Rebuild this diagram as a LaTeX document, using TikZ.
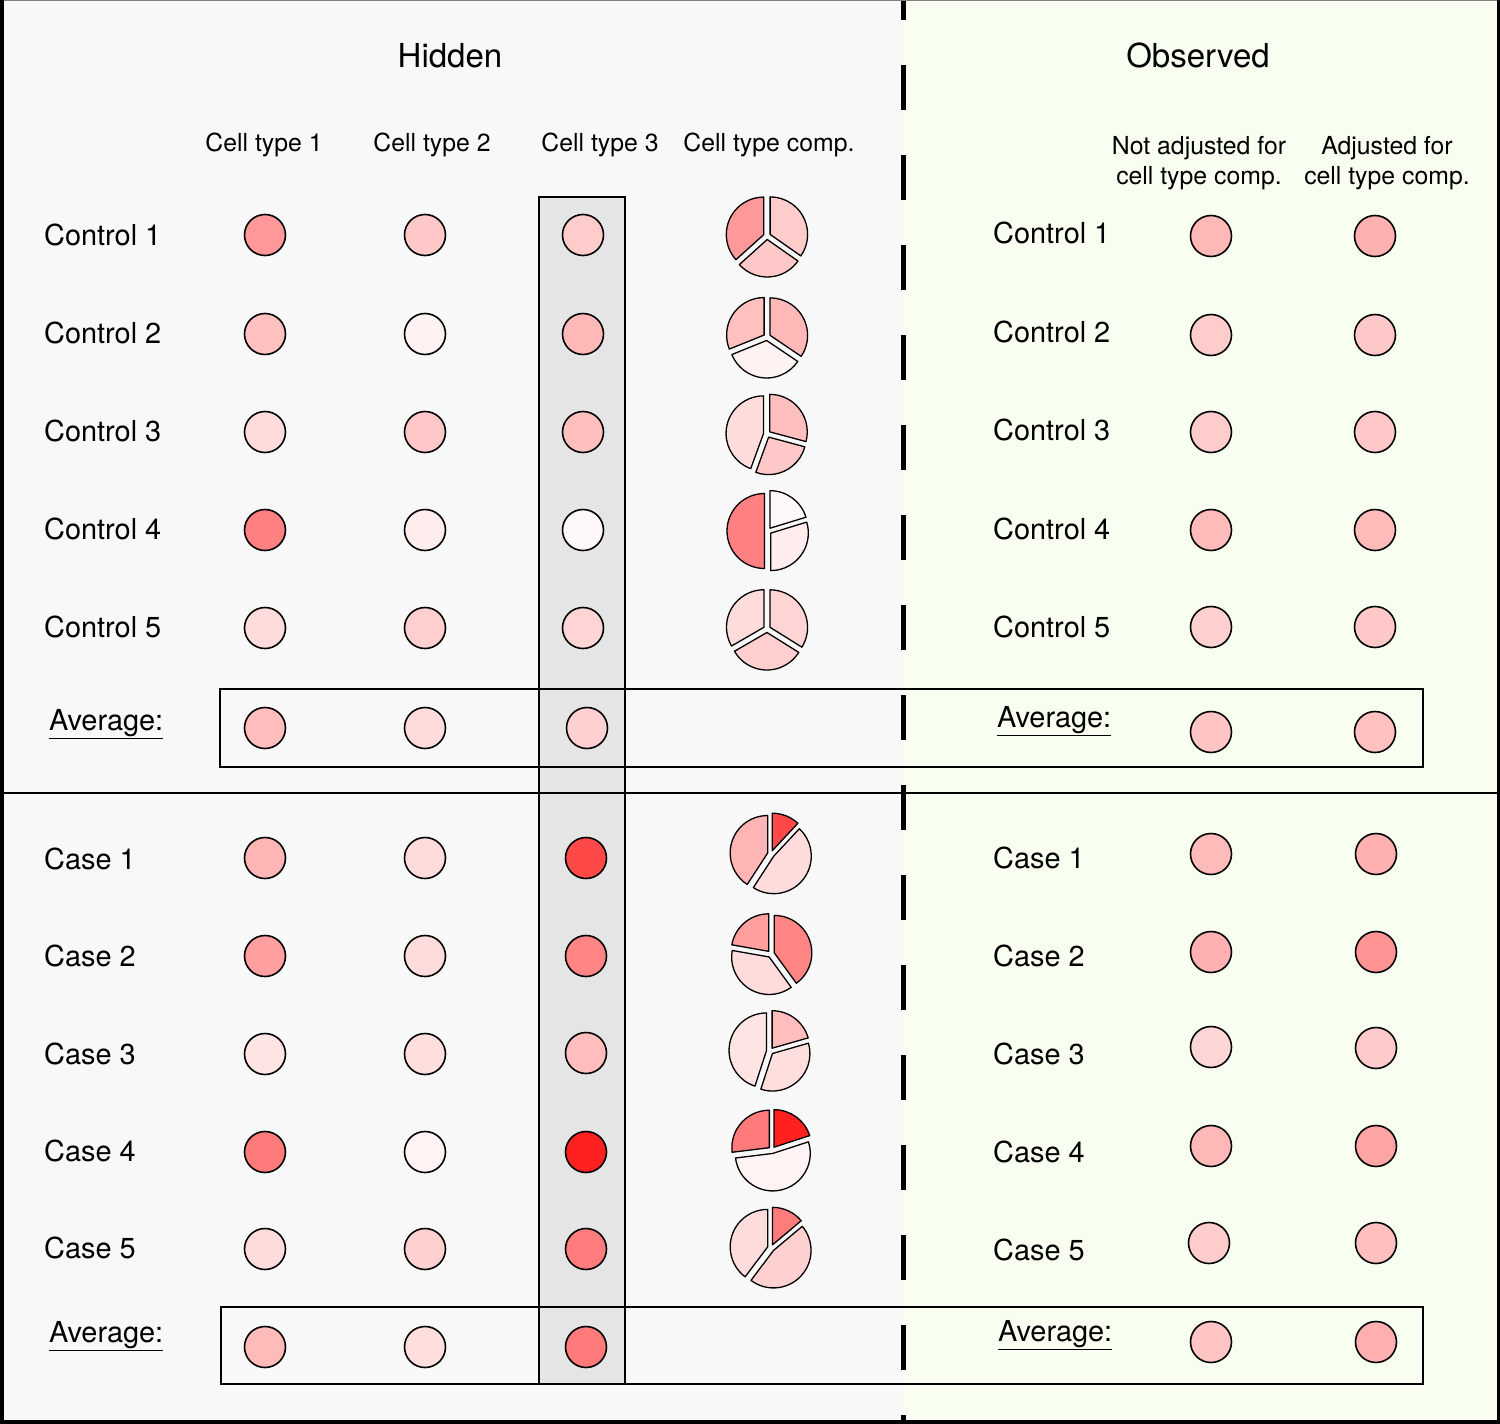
\documentclass[tikz,border=0pt]{standalone}
\usepackage{fontspec}
\setmainfont{TeX Gyre Heros}
\definecolor{leftbg}{HTML}{F8F8F8}
\definecolor{rightbg}{HTML}{F9FFF0}
\definecolor{colbg}{HTML}{E5E5E5}
\tikzset{
 dot/.style={circle, draw=black, line width=1.6pt, minimum size=41pt, inner sep=0pt},
 lbl/.style={font=\fontsize{28.9}{34}\selectfont, anchor=base west, inner sep=0pt},
 hdr/.style={font=\fontsize{24.8}{30}\selectfont, anchor=base, inner sep=0pt},
 hdrtwo/.style={font=\fontsize{24.8}{30}\selectfont, align=center, anchor=center, inner sep=0pt},
 ttl/.style={font=\fontsize{33}{40}\selectfont, anchor=base, inner sep=0pt},
 framebox/.style={draw=black, line width=1.6pt},
 pieslice/.style={draw=black, line width=1.3pt, line join=round},
}
% dot: name, x, y, hex colour
\newcommand{\dotc}[4]{\definecolor{tmpc}{HTML}{#4}\node[dot,fill=tmpc] (#1) at (#2,#3) {};}
% pie slice: cx, cy, a1, a2, hex colour
\newcommand{\pslc}[5]{%
 \definecolor{tmpp}{HTML}{#5}%
 \begin{scope}[shift={(#1,#2)},y=1pt]
  \pgfmathsetmacro{\pmid}{(#3+#4)/2}
  \filldraw[pieslice,fill=tmpp] (\pmid:3.5) -- ++(#3:37.5) arc[start angle=#3,end angle=#4,radius=37.5] -- cycle;
 \end{scope}}
\begin{document}
\begin{tikzpicture}[x=1pt,y=-1pt]
\useasboundingbox (0,0) rectangle (1500,1424);
% backgrounds
\fill[leftbg] (0,0) rectangle (903,1424);
\fill[rightbg] (903,0) rectangle (1500,1424);
% grey column for cell type 3
\filldraw[framebox, fill=colbg, line width=1.4pt] (539,197) rectangle (625,1384);
% average boxes
\draw[framebox] (220,689) rectangle (1423,767);
\draw[framebox] (221,1307) rectangle (1423,1384);
% separator between controls and cases
\coordinate (sepL) at (0,793);
\coordinate (sepR) at (1500,793);
\draw[line width=1.2pt] (sepL) -- (sepR);
% dashed divider
\coordinate (dashT) at (903,0);
\coordinate (dashB) at (903,1424);
\draw[line width=5pt, dash pattern=on 45pt off 45pt, dash phase=25pt] (dashT) -- (dashB);
% outer borders
\coordinate (tl) at (0,0);
\coordinate (tr) at (1500,0);
\coordinate (bl) at (0,1424);
\coordinate (br) at (1500,1424);
\draw[gray, line width=1.2pt] ([yshift=-0.6pt]tl) -- ([yshift=-0.6pt]tr);
\draw[line width=4pt] ([xshift=2pt]tl) -- ([xshift=2pt]bl);
\draw[line width=4pt] ([yshift=2pt]bl) -- ([yshift=2pt]br);
\draw[line width=3.5pt] ([xshift=-1.75pt]tr) -- ([xshift=-1.75pt]br);

% titles and headers
\node[ttl] (hidden) at (450,67) {Hidden};
\node[ttl] (observed) at (1198,67) {Observed};
\node[hdr] (h1) at (264,151) {Cell type 1};
\node[hdr] (h2) at (432,151) {Cell type 2};
\node[hdr] (h3) at (600,151) {Cell type 3};
\node[hdr] (h4) at (769,151) {Cell type comp.};
\node[hdrtwo] (h5) at (1199,163) {Not adjusted for\\cell type comp.};
\node[hdrtwo] (h6) at (1387,163) {Adjusted for\\cell type comp.};

% left row labels
\node[lbl] (lc1) at (44,245) {Control 1};
\node[lbl] (lc2) at (44,343) {Control 2};
\node[lbl] (lc3) at (44,441) {Control 3};
\node[lbl] (lc4) at (44,539) {Control 4};
\node[lbl] (lc5) at (44,637) {Control 5};
\node[lbl] (lavg1) at (49,730) {\underline{Average:}};
\node[lbl] (lk1) at (44,869) {Case 1};
\node[lbl] (lk2) at (44,966) {Case 2};
\node[lbl] (lk3) at (44,1064) {Case 3};
\node[lbl] (lk4) at (44,1161) {Case 4};
\node[lbl] (lk5) at (44,1258) {Case 5};
\node[lbl] (lavg2) at (49,1342) {\underline{Average:}};

% right row labels
\node[lbl] (rc1) at (993,243) {Control 1};
\node[lbl] (rc2) at (993,342) {Control 2};
\node[lbl] (rc3) at (993,440) {Control 3};
\node[lbl] (rc4) at (993,539) {Control 4};
\node[lbl] (rc5) at (993,637) {Control 5};
\node[lbl] (ravg1) at (997,727) {\underline{Average:}};
\node[lbl] (rk1) at (993,868) {Case 1};
\node[lbl] (rk2) at (993,966) {Case 2};
\node[lbl] (rk3) at (993,1064) {Case 3};
\node[lbl] (rk4) at (993,1162) {Case 4};
\node[lbl] (rk5) at (993,1260) {Case 5};
\node[lbl] (ravg2) at (998,1341) {\underline{Average:}};

% hidden: controls
\dotc{a11}{265}{235}{FF9999}\dotc{a12}{425}{235}{FFC8C8}\dotc{a13}{583}{235}{FFCCCC}
\dotc{a21}{265}{334}{FFC0C0}\dotc{a22}{425}{334}{FFF2F2}\dotc{a23}{583}{334}{FFB8B8}
\dotc{a31}{265}{432}{FFDCDC}\dotc{a32}{425}{432}{FFC8C8}\dotc{a33}{583}{432}{FFBFBF}
\dotc{a41}{265}{530}{FF8080}\dotc{a42}{425}{530}{FFEDED}\dotc{a43}{583}{530}{FFF8F8}
\dotc{a51}{265}{628}{FFDCDC}\dotc{a52}{425}{628}{FFCFCF}\dotc{a53}{583}{628}{FFD4D4}
\dotc{a61}{265}{728}{FFBDBD}\dotc{a62}{425}{728}{FFDCDC}\dotc{a63}{587}{728}{FFD0D0}
% hidden: cases
\dotc{b11}{265}{858}{FFB5B5}\dotc{b12}{425}{858}{FFDCDC}\dotc{b13}{586}{858}{FF4848}
\dotc{b21}{265}{956}{FF9F9F}\dotc{b22}{425}{956}{FFDCDC}\dotc{b23}{586}{956}{FF8585}
\dotc{b31}{265}{1054}{FFE4E4}\dotc{b32}{425}{1054}{FFDEDE}\dotc{b33}{586}{1053}{FFBDBD}
\dotc{b41}{265}{1152}{FF7A7A}\dotc{b42}{425}{1152}{FFF3F3}\dotc{b43}{586}{1152}{FF2020}
\dotc{b51}{265}{1249}{FFDCDC}\dotc{b52}{425}{1249}{FFD0D0}\dotc{b53}{586}{1249}{FF7C7C}
\dotc{b61}{265}{1347}{FFBABA}\dotc{b62}{425}{1347}{FFDEDE}\dotc{b63}{586}{1347}{FF7A7A}

% pies: controls
\pslc{767}{236}{90}{222}{FF9999}\pslc{767}{236}{222}{325}{FFC8C8}\pslc{767}{236}{325}{450}{FFCCCC}
\pslc{767}{337}{90}{202}{FFC0C0}\pslc{767}{337}{202}{326}{FFF2F2}\pslc{767}{337}{326}{450}{FFB8B8}
\pslc{767}{434}{90}{250}{FFDCDC}\pslc{767}{434}{250}{345}{FFC8C8}\pslc{767}{434}{345}{450}{FFBFBF}
\pslc{768}{531}{90}{270}{FF8080}\pslc{768}{531}{270}{377}{FFEDED}\pslc{768}{531}{377}{450}{FFF8F8}
\pslc{767}{629}{90}{210}{FFDCDC}\pslc{767}{629}{210}{328}{FFCFCF}\pslc{767}{629}{328}{450}{FFD4D4}
% pies: cases
\pslc{771}{854}{90}{237}{FFB5B5}\pslc{771}{854}{237}{407}{FFDCDC}\pslc{771}{854}{407}{450}{FF4848}
\pslc{771}{954}{90}{170}{FF9F9F}\pslc{771}{954}{170}{306}{FFDCDC}\pslc{771}{954}{306}{450}{FF8585}
\pslc{770}{1051}{90}{252}{FFE4E4}\pslc{770}{1051}{252}{376}{FFDEDE}\pslc{770}{1051}{376}{450}{FFBDBD}
\pslc{772}{1150}{90}{187}{FF7A7A}\pslc{772}{1150}{187}{378}{FFF3F3}\pslc{772}{1150}{378}{450}{FF2020}
\pslc{771}{1248}{90}{233}{FFDCDC}\pslc{771}{1248}{233}{400}{FFD0D0}\pslc{771}{1248}{400}{450}{FF7C7C}

% observed: controls
\dotc{o11}{1211}{236}{FFB8B8}\dotc{o12}{1375}{236}{FFB0B0}
\dotc{o21}{1211}{335}{FFCCCC}\dotc{o22}{1375}{335}{FFC8C8}
\dotc{o31}{1211}{432}{FFCCCC}\dotc{o32}{1375}{432}{FFC8C8}
\dotc{o41}{1211}{530}{FFBABA}\dotc{o42}{1375}{530}{FFBABA}
\dotc{o51}{1211}{627}{FFD0D0}\dotc{o52}{1375}{627}{FFC8C8}
\dotc{o61}{1211}{732}{FFC4C4}\dotc{o62}{1375}{732}{FFC0C0}
% observed: cases
\dotc{p11}{1211}{854}{FFBABA}\dotc{p12}{1376}{854}{FFB0B0}
\dotc{p21}{1211}{952}{FFB0B0}\dotc{p22}{1376}{952}{FF9494}
\dotc{p31}{1211}{1047}{FFD6D6}\dotc{p32}{1376}{1048}{FFCACA}
\dotc{p41}{1211}{1146}{FFB8B8}\dotc{p42}{1376}{1146}{FFA4A4}
\dotc{p51}{1209}{1243}{FFCCCC}\dotc{p52}{1376}{1243}{FFBFBF}
\dotc{p61}{1211}{1342}{FFC4C4}\dotc{p62}{1376}{1342}{FFAFAF}
\end{tikzpicture}
\end{document}
